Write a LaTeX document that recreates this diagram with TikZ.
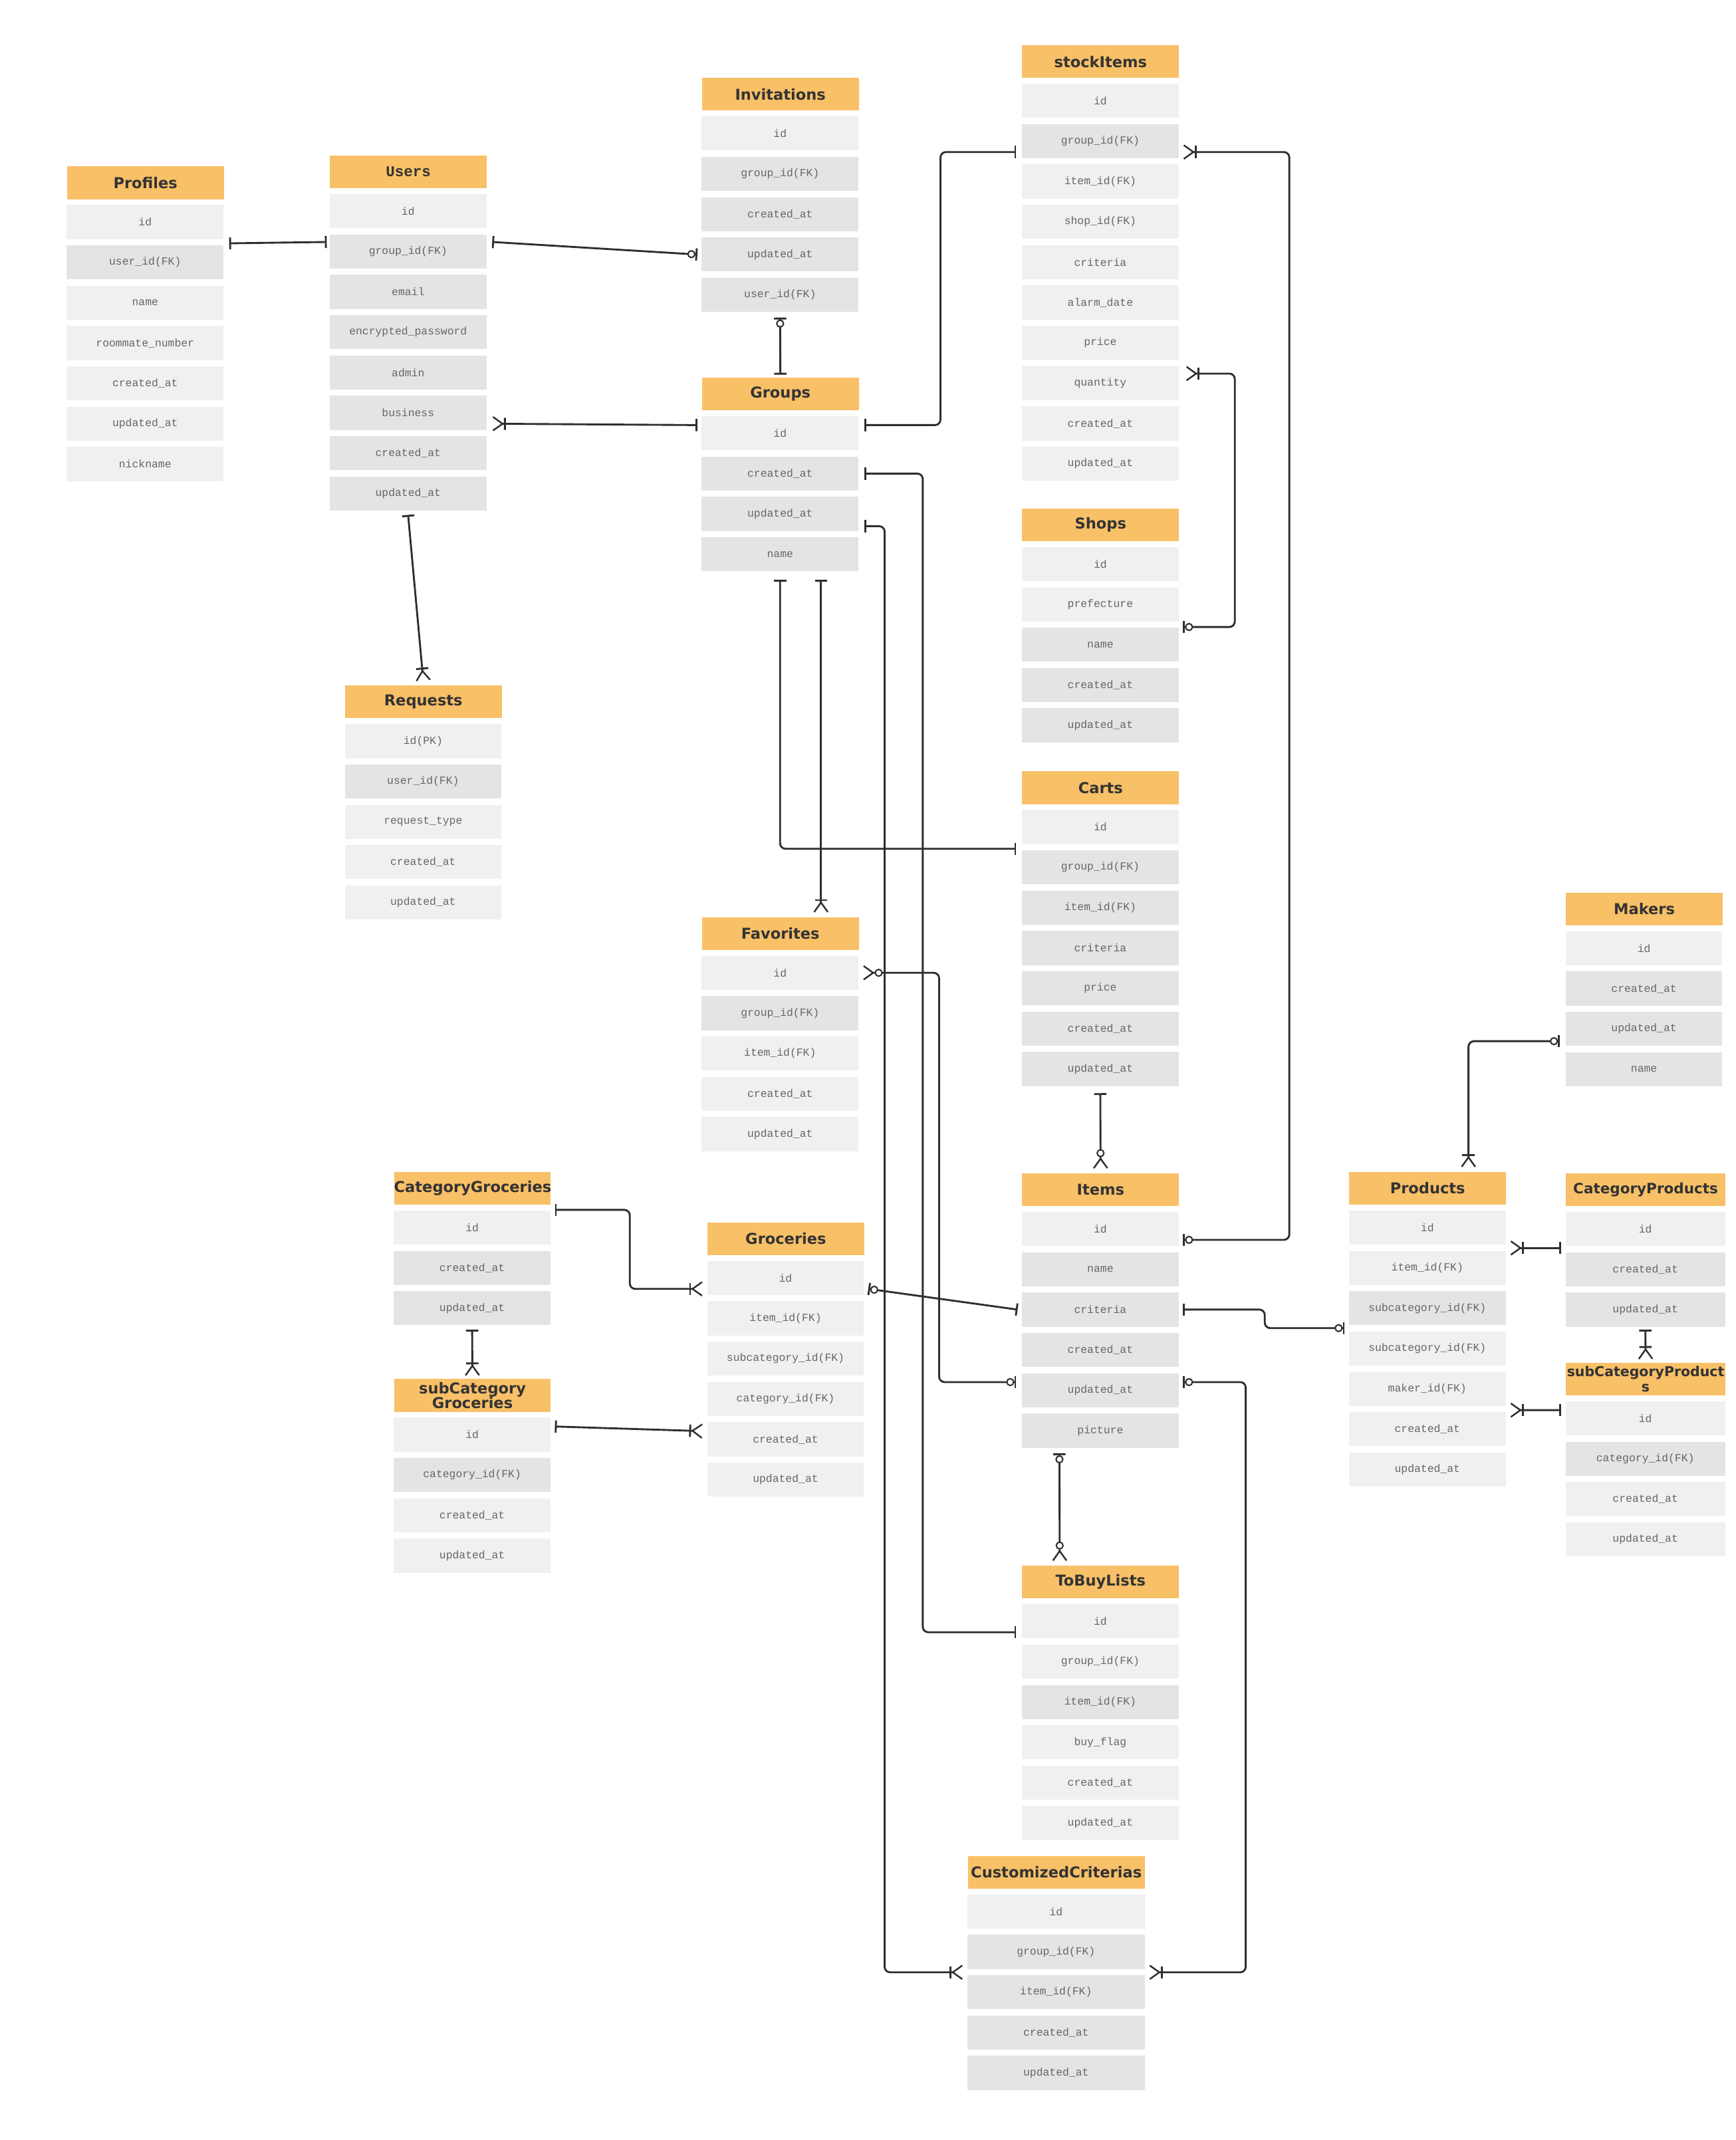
\documentclass[tikz,border=0pt]{standalone}
\usepackage{fontspec}
\setmainfont{DejaVu Sans}
\newfontfamily\fieldfont{Liberation Mono}
\usetikzlibrary{arrows.meta}
\definecolor{L}{HTML}{F0F0F0}
\definecolor{D}{HTML}{E4E4E4}
\definecolor{hd}{HTML}{F8C067}
\definecolor{tx}{HTML}{333333}
\definecolor{ln}{HTML}{2E2E2E}
\tikzset{
 hdr/.style={draw=none,fill=hd,minimum height=24pt,inner sep=0pt,font=\bfseries\fontsize{11}{11}\selectfont,text=tx,align=center},
 frow/.style={draw=none,minimum height=25pt,inner sep=0pt,font=\fieldfont\fontsize{8}{8}\selectfont,text=black!60},
 rel/.style={draw=ln,line width=1.4pt,rounded corners=4pt},
 ONE/.tip={Bar[width=9pt,line width=1.4pt]},
 Z1/.tip={Circle[fill=white,length=6pt,width=6pt,line width=1pt] Bar[width=9pt,line width=1.4pt]},
 OM/.tip={Bar[width=9pt,line width=1.4pt] Straight Barb[reversed,length=7pt,width=10pt,line width=1.2pt]},
 ZM/.tip={Circle[fill=white,length=6pt,width=6pt,line width=1pt] Straight Barb[reversed,length=7pt,width=10pt,line width=1.2pt]},
}
\newcommand\ertable[6]{%
 \node[hdr,minimum width=#5,text width=#5,anchor=north west] (#1) at (#2,#3) {#4};
 \foreach \f/\s [count=\i] in {#6}{
  \node[frow,fill=\s,minimum width=#5] (#1-\i) at ({#2+#5/2},{#3+41+29.6*(\i-1)}) {\f};
 }}
\begin{document}
\begin{tikzpicture}[x=1pt,y=-1pt]
\useasboundingbox (0,0) rectangle (1274,1570.7);
\ertable{prof}{49}{122}{Profiles}{115}{id/L,user\_id(FK)/D,name/L,roommate\_number/L,created\_at/L,updated\_at/L,nickname/L}
\ertable{users}{242}{114}{\fieldfont Users}{115}{id/L,group\_id(FK)/D,email/D,encrypted\_password/D,admin/D,business/D,created\_at/D,updated\_at/D}
\ertable{inv}{515}{57}{Invitations}{115}{id/L,group\_id(FK)/D,created\_at/D,updated\_at/D,user\_id(FK)/D}
\ertable{stock}{750}{33}{stockItems}{115}{id/L,group\_id(FK)/D,item\_id(FK)/L,shop\_id(FK)/L,criteria/L,alarm\_date/L,price/L,quantity/L,created\_at/L,updated\_at/L}
\ertable{grp}{515}{277}{Groups}{115}{id/L,created\_at/D,updated\_at/D,name/D}
\ertable{shop}{750}{373}{Shops}{115}{id/L,prefecture/L,name/D,created\_at/D,updated\_at/D}
\ertable{req}{253}{503}{Requests}{115}{id(PK)/L,user\_id(FK)/D,request\_type/L,created\_at/L,updated\_at/L}
\ertable{cart}{750}{566}{Carts}{115}{id/L,group\_id(FK)/D,item\_id(FK)/D,criteria/D,price/D,created\_at/D,updated\_at/D}
\ertable{fav}{515}{673}{Favorites}{115}{id/L,group\_id(FK)/D,item\_id(FK)/L,created\_at/L,updated\_at/L}
\ertable{maker}{1149}{655}{Makers}{115}{id/L,created\_at/D,updated\_at/D,name/D}
\ertable{catg}{289}{860}{CategoryGroceries}{115}{id/L,created\_at/D,updated\_at/D}
\ertable{groc}{519}{897}{Groceries}{115}{id/L,item\_id(FK)/L,subcategory\_id(FK)/L,category\_id(FK)/L,created\_at/L,updated\_at/L}
\ertable{item}{750}{861}{Items}{115}{id/L,name/D,criteria/D,created\_at/D,updated\_at/D,picture/D}
\ertable{prod}{990}{860}{Products}{115}{id/L,item\_id(FK)/L,subcategory\_id(FK)/D,subcategory\_id(FK)/L,maker\_id(FK)/L,created\_at/L,updated\_at/L}
\ertable{catp}{1149}{861}{\fontsize{10.5}{10.5}\selectfont CategoryProducts}{117}{id/L,created\_at/D,updated\_at/D}
\ertable{subg}{289}{1012}{\fontsize{11}{10}\selectfont subCategory\\Groceries}{115}{id/L,category\_id(FK)/D,created\_at/L,updated\_at/L}
\ertable{subp}{1149}{1000}{\fontsize{10}{9.5}\selectfont subCategoryProduct\\s}{117}{id/L,category\_id(FK)/D,created\_at/L,updated\_at/L}
\ertable{tobuy}{750}{1149}{ToBuyLists}{115}{id/L,group\_id(FK)/L,item\_id(FK)/D,buy\_flag/L,created\_at/L,updated\_at/L}
\ertable{cust}{710}{1362}{CustomizedCriterias}{130}{id/L,group\_id(FK)/D,item\_id(FK)/D,created\_at/D,updated\_at/D}
% connectors
\draw[rel,{ONE}-{ONE}] ([xshift=4,yshift=14]prof-2.east) -- ([xshift=-2,yshift=7]users-2.west);
\draw[rel,{ONE}-{Z1}] ([xshift=4,yshift=7]users-2.east) -- ([xshift=-3]inv-4.west);
\draw[rel,{OM}-{ONE}] ([xshift=4,yshift=-8]users-6.east) -- ([xshift=-3,yshift=6]grp-1.west);
\draw[rel,{Z1}-{ONE}] ([yshift=-4]inv-5.south) -- ([yshift=2]grp.north);
\draw[rel,{ONE}-{ONE}] ([xshift=4,yshift=6]grp-1.east) -- ++(56,0) |- ([xshift=-4,yshift=-8]stock-2.west);
\draw[rel,{OM}-{Z1}] ([xshift=3,yshift=-8]stock-2.east) -- ++(78,0) |- ([xshift=3,yshift=-8]item-1.east);
\draw[rel,{OM}-{Z1}] ([xshift=5,yshift=7]stock-8.east) -- ++(36,0) |- ([xshift=3,yshift=13]shop-3.east);
\draw[rel,{ONE}-{ONE}] ([xshift=4]grp-2.east) -- ++(43,0) |- ([xshift=-4,yshift=-8]tobuy-1.west);
\draw[rel,{ONE}-{OM}] ([xshift=4,yshift=-9]grp-3.east) -- ++(15,0) |- ([xshift=-3,yshift=-15]cust-2.west);
\draw[rel,{ONE}-{ONE}] ([yshift=-6]grp-4.south) |- ([xshift=-4,yshift=-16]cart-1.west);
\draw[rel,{ONE}-{OM}] ([xshift=30,yshift=-6]grp-4.south) -- ([xshift=30,yshift=3]grp-4.south |- fav.north);
\draw[rel,{ONE}-{OM}] ([yshift=-3]users-8.south) -- ([yshift=3]req.north);
\draw[rel,{ZM}-{Z1}] ([xshift=3]fav-1.east) -- ++(56,0) |- ([xshift=-4,yshift=6]item-5.west);
\draw[rel,{ONE}-{ZM}] ([yshift=-5]cart-7.south) -- ([yshift=3]item.north);
\draw[rel,{Z1}-{OM}] ([xshift=-4,yshift=-9]maker-3.west) -| ([xshift=30,yshift=3]prod.north);
\draw[rel,{OM}-{ONE}] ([xshift=3,yshift=-15]prod-1.east) -- ([xshift=-3,yshift=-14]catp-1.west);
\draw[rel,{ONE}-{OM}] ([yshift=-2]catp-3.south) -- ([yshift=2]subp.north);
\draw[rel,{OM}-{ONE}] ([xshift=3,yshift=14]prod-6.east) -- ([xshift=-3,yshift=6]subp-1.west);
\draw[rel,{ONE}-{Z1}] ([xshift=3]item-3.east) -- ++(60,0) |- ([xshift=-3,yshift=15]prod-4.west);
\draw[rel,{Z1}-{ONE}] ([xshift=3,yshift=-8]groc-1.east) -- ([xshift=-3]item-3.west);
\draw[rel,{ONE}-{OM}] ([xshift=3,yshift=13]catg-1.east) -- ++(55,0) |- ([xshift=-3,yshift=-8]groc-1.west);
\draw[rel,{ONE}-{OM}] ([yshift=-3]catg-3.south) -- ([yshift=2]subg.north);
\draw[rel,{ONE}-{OM}] ([xshift=3,yshift=6]subg-1.east) -- ([xshift=-3,yshift=6]groc-5.west);
\draw[rel,{Z1}-{ZM}] ([xshift=-30,yshift=-4]item-6.south) -- ([xshift=-30,yshift=3]tobuy.north);
\draw[rel,{Z1}-{OM}] ([xshift=3,yshift=6]item-5.east) -- ++(46,0) |- ([xshift=3,yshift=-15]cust-2.east);
\end{tikzpicture}
\end{document}
